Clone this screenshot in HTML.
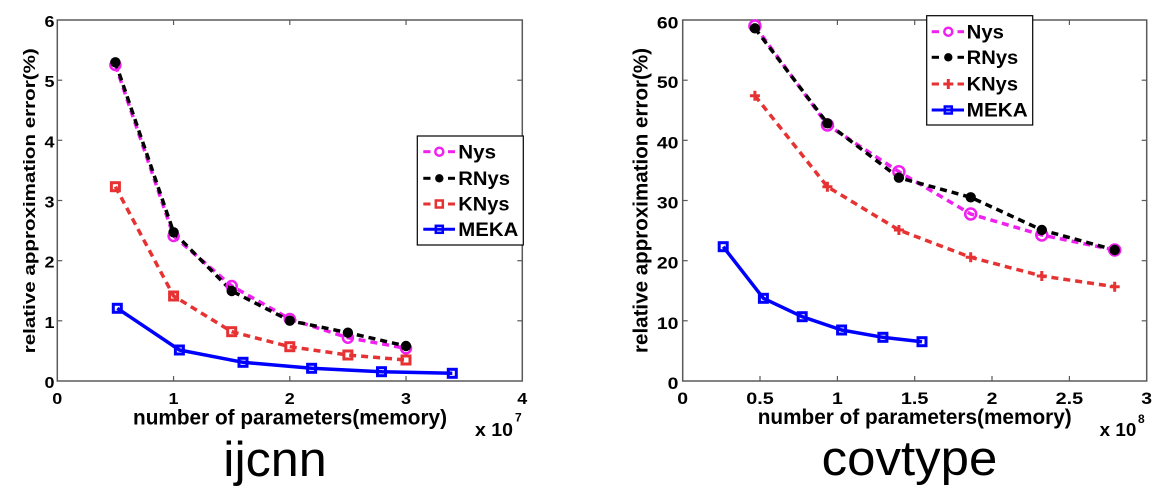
<!DOCTYPE html>
<html>
<head>
<meta charset="utf-8">
<style>
html,body{margin:0;padding:0;background:#fff;}
svg{display:block;}
.b{font-family:"Liberation Sans",Arial,sans-serif;font-weight:bold;fill:#000;}
.t{font-family:"Liberation Sans",Arial,sans-serif;font-weight:normal;fill:#000;}
</style>
</head>
<body>
<svg width="1158" height="502" viewBox="0 0 1158 502" xmlns="http://www.w3.org/2000/svg">
<rect x="0" y="0" width="1158" height="502" fill="#fff"/>

<!-- ================= LEFT PLOT (ijcnn) ================= -->
<g>
  <!-- axes box -->
  <rect x="57.3" y="20" width="465" height="361" fill="none" stroke="#5a5a5a" stroke-width="1.5"/>
  <!-- ticks -->
  <g stroke="#5a5a5a" stroke-width="1.2">
    <line x1="173.55" y1="381" x2="173.55" y2="376"/><line x1="289.8" y1="381" x2="289.8" y2="376"/><line x1="406.05" y1="381" x2="406.05" y2="376"/>
    <line x1="173.55" y1="20" x2="173.55" y2="25"/><line x1="289.8" y1="20" x2="289.8" y2="25"/><line x1="406.05" y1="20" x2="406.05" y2="25"/>
    <line x1="57.3" y1="320.8" x2="62.3" y2="320.8"/><line x1="57.3" y1="260.7" x2="62.3" y2="260.7"/><line x1="57.3" y1="200.5" x2="62.3" y2="200.5"/><line x1="57.3" y1="140.3" x2="62.3" y2="140.3"/><line x1="57.3" y1="80.2" x2="62.3" y2="80.2"/>
    <line x1="522.3" y1="320.8" x2="517.3" y2="320.8"/><line x1="522.3" y1="260.7" x2="517.3" y2="260.7"/><line x1="522.3" y1="200.5" x2="517.3" y2="200.5"/><line x1="522.3" y1="140.3" x2="517.3" y2="140.3"/><line x1="522.3" y1="80.2" x2="517.3" y2="80.2"/>
  </g>
  <!-- y tick labels -->
  <g class="b" font-size="16" text-anchor="end">
    <text x="54.5" y="388" textLength="10" lengthAdjust="spacingAndGlyphs">0</text>
    <text x="54.5" y="327.8" textLength="10" lengthAdjust="spacingAndGlyphs">1</text>
    <text x="54.5" y="267.7" textLength="10" lengthAdjust="spacingAndGlyphs">2</text>
    <text x="54.5" y="207.5" textLength="10" lengthAdjust="spacingAndGlyphs">3</text>
    <text x="54.5" y="147.3" textLength="10" lengthAdjust="spacingAndGlyphs">4</text>
    <text x="54.5" y="87.2" textLength="10" lengthAdjust="spacingAndGlyphs">5</text>
    <text x="54.5" y="27" textLength="10" lengthAdjust="spacingAndGlyphs">6</text>
  </g>
  <!-- x tick labels -->
  <g class="b" font-size="16" text-anchor="middle">
    <text x="57.3" y="404" textLength="10" lengthAdjust="spacingAndGlyphs">0</text>
    <text x="173.55" y="404" textLength="10" lengthAdjust="spacingAndGlyphs">1</text>
    <text x="289.8" y="404" textLength="10" lengthAdjust="spacingAndGlyphs">2</text>
    <text x="406.05" y="404" textLength="10" lengthAdjust="spacingAndGlyphs">3</text>
    <text x="522.3" y="404" textLength="10" lengthAdjust="spacingAndGlyphs">4</text>
  </g>
  <!-- axis labels -->
  <text class="b" font-size="21" x="133" y="424.5" textLength="314" lengthAdjust="spacingAndGlyphs">number of parameters(memory)</text>
  <text class="b" font-size="18" x="475" y="436" textLength="38" lengthAdjust="spacingAndGlyphs">x 10</text>
  <text class="b" font-size="12" x="515" y="421.5">7</text>
  <text class="b" font-size="20" text-anchor="middle" transform="translate(35,200.8) rotate(-90) scale(1,0.85)" textLength="305" lengthAdjust="spacingAndGlyphs">relative approximation error(%)</text>

  <!-- series -->
  <g fill="none" stroke-width="3.5" stroke-linejoin="round">
    <polyline stroke="#f020f0" stroke-dasharray="7 5" points="115.4,65 173.6,236 231.7,286 289.8,319 347.9,337.7 406,348.3"/>
    <polyline stroke="#000" stroke-dasharray="7 5" points="115.4,62.3 173.6,232.3 231.7,291 289.8,320.7 347.9,332.7 406,346"/>
    <polyline stroke="#e63232" stroke-dasharray="7 5" points="115.4,186.7 173.6,296 231.7,331.7 289.8,346.7 347.9,355 406,360"/>
    <polyline stroke="#0000ff" points="117.3,308.3 179.4,350 243,362.3 311.6,368.3 381.5,371.7 452.3,373.3"/>
  </g>
  <!-- markers -->
  <g fill="none" stroke="#f020f0" stroke-width="2.5">
    <circle cx="115.4" cy="65" r="5"/><circle cx="173.6" cy="236" r="5"/><circle cx="231.7" cy="286" r="5"/><circle cx="289.8" cy="319" r="5"/><circle cx="347.9" cy="337.7" r="5"/><circle cx="406" cy="348.3" r="5"/>
  </g>
  <g fill="#000">
    <circle cx="115.4" cy="62.3" r="5.2"/><circle cx="173.6" cy="232.3" r="5.2"/><circle cx="231.7" cy="291" r="5.2"/><circle cx="289.8" cy="320.7" r="5.2"/><circle cx="347.9" cy="332.7" r="5.2"/><circle cx="406" cy="346" r="5.2"/>
  </g>
  <g fill="none" stroke="#e63232" stroke-width="3">
    <rect x="111.4" y="182.7" width="8" height="8"/><rect x="169.6" y="292" width="8" height="8"/><rect x="227.7" y="327.7" width="8" height="8"/><rect x="285.8" y="342.7" width="8" height="8"/><rect x="343.9" y="351" width="8" height="8"/><rect x="402" y="356" width="8" height="8"/>
  </g>
  <g fill="none" stroke="#0000ff" stroke-width="3">
    <rect x="113.3" y="304.3" width="8" height="8"/><rect x="175.4" y="346" width="8" height="8"/><rect x="239" y="358.3" width="8" height="8"/><rect x="307.6" y="364.3" width="8" height="8"/><rect x="377.5" y="367.7" width="8" height="8"/><rect x="448.3" y="369.3" width="8" height="8"/>
  </g>

  <!-- legend -->
  <rect x="417.3" y="136" width="106" height="109" fill="#fff" stroke="#000" stroke-width="1.2"/>
  <g stroke-width="3">
    <line x1="423.3" y1="151.7" x2="430.5" y2="151.7" stroke="#f020f0"/><line x1="448" y1="151.7" x2="455" y2="151.7" stroke="#f020f0"/>
    <circle cx="439.3" cy="151.7" r="4" fill="none" stroke="#f020f0" stroke-width="2.5"/>
    <line x1="423.3" y1="178.3" x2="430.5" y2="178.3" stroke="#000"/><line x1="448" y1="178.3" x2="455" y2="178.3" stroke="#000"/>
    <circle cx="439.3" cy="178.3" r="4.2" fill="#000" stroke="none"/>
    <line x1="423.3" y1="204" x2="430.5" y2="204" stroke="#e63232"/><line x1="448" y1="204" x2="455" y2="204" stroke="#e63232"/>
    <rect x="435.8" y="200.5" width="7" height="7" fill="none" stroke="#e63232" stroke-width="2.5"/>
    <line x1="423.3" y1="229.3" x2="455" y2="229.3" stroke="#0000ff"/>
    <rect x="435.8" y="225.8" width="7" height="7" fill="none" stroke="#0000ff" stroke-width="2.5"/>
  </g>
  <g class="b" font-size="19">
    <text x="458.3" y="158.3" textLength="37.7" lengthAdjust="spacingAndGlyphs">Nys</text>
    <text x="458.3" y="185" textLength="51.7" lengthAdjust="spacingAndGlyphs">RNys</text>
    <text x="458.3" y="210.7" textLength="51.2" lengthAdjust="spacingAndGlyphs">KNys</text>
    <text x="458.3" y="236" textLength="60" lengthAdjust="spacingAndGlyphs">MEKA</text>
  </g>

  <!-- title -->
  <text class="t" font-size="49" x="223.3" y="476" textLength="103.4" lengthAdjust="spacingAndGlyphs">ijcnn</text>
</g>

<!-- ================= RIGHT PLOT (covtype) ================= -->
<g>
  <rect x="682.7" y="20" width="464" height="361" fill="none" stroke="#5a5a5a" stroke-width="1.5"/>
  <g stroke="#5a5a5a" stroke-width="1.2">
    <line x1="760" y1="381" x2="760" y2="376"/><line x1="837.4" y1="381" x2="837.4" y2="376"/><line x1="914.7" y1="381" x2="914.7" y2="376"/><line x1="992" y1="381" x2="992" y2="376"/><line x1="1069.4" y1="381" x2="1069.4" y2="376"/>
    <line x1="760" y1="20" x2="760" y2="25"/><line x1="837.4" y1="20" x2="837.4" y2="25"/><line x1="914.7" y1="20" x2="914.7" y2="25"/><line x1="992" y1="20" x2="992" y2="25"/><line x1="1069.4" y1="20" x2="1069.4" y2="25"/>
    <line x1="682.7" y1="320.8" x2="687.7" y2="320.8"/><line x1="682.7" y1="260.7" x2="687.7" y2="260.7"/><line x1="682.7" y1="200.5" x2="687.7" y2="200.5"/><line x1="682.7" y1="140.3" x2="687.7" y2="140.3"/><line x1="682.7" y1="80.2" x2="687.7" y2="80.2"/>
    <line x1="1146.7" y1="320.8" x2="1141.7" y2="320.8"/><line x1="1146.7" y1="260.7" x2="1141.7" y2="260.7"/><line x1="1146.7" y1="200.5" x2="1141.7" y2="200.5"/><line x1="1146.7" y1="140.3" x2="1141.7" y2="140.3"/><line x1="1146.7" y1="80.2" x2="1141.7" y2="80.2"/>
  </g>
  <g class="b" font-size="16.5" text-anchor="end">
    <text x="678.5" y="389" textLength="10.8" lengthAdjust="spacingAndGlyphs">0</text>
    <text x="678.5" y="328.8" textLength="21.6" lengthAdjust="spacingAndGlyphs">10</text>
    <text x="678.5" y="268.7" textLength="21.6" lengthAdjust="spacingAndGlyphs">20</text>
    <text x="678.5" y="208.5" textLength="21.6" lengthAdjust="spacingAndGlyphs">30</text>
    <text x="678.5" y="148.3" textLength="21.6" lengthAdjust="spacingAndGlyphs">40</text>
    <text x="678.5" y="88.2" textLength="21.6" lengthAdjust="spacingAndGlyphs">50</text>
    <text x="678.5" y="28.3" textLength="21.6" lengthAdjust="spacingAndGlyphs">60</text>
  </g>
  <g class="b" font-size="16.5" text-anchor="middle">
    <text x="682.7" y="404" textLength="10.8" lengthAdjust="spacingAndGlyphs">0</text>
    <text x="760" y="404" textLength="27.5" lengthAdjust="spacingAndGlyphs">0.5</text>
    <text x="837.4" y="404" textLength="10.8" lengthAdjust="spacingAndGlyphs">1</text>
    <text x="914.7" y="404" textLength="27.5" lengthAdjust="spacingAndGlyphs">1.5</text>
    <text x="992" y="404" textLength="10.8" lengthAdjust="spacingAndGlyphs">2</text>
    <text x="1069.4" y="404" textLength="27.5" lengthAdjust="spacingAndGlyphs">2.5</text>
    <text x="1146.7" y="404" textLength="10.8" lengthAdjust="spacingAndGlyphs">3</text>
  </g>
  <text class="b" font-size="21" x="757.7" y="424" textLength="314" lengthAdjust="spacingAndGlyphs">number of parameters(memory)</text>
  <text class="b" font-size="18" x="1099.7" y="436" textLength="36.6" lengthAdjust="spacingAndGlyphs">x 10</text>
  <text class="b" font-size="12" x="1138" y="423">8</text>
  <text class="b" font-size="20.5" text-anchor="middle" transform="translate(647.5,200.5) rotate(-90)" textLength="305" lengthAdjust="spacingAndGlyphs">relative approximation error(%)</text>

  <g fill="none" stroke-width="3.5" stroke-linejoin="round">
    <polyline stroke="#f020f0" stroke-dasharray="7 5" points="754.9,26 827.4,125 898.9,171.7 970.7,214 1041.8,235 1114.7,250"/>
    <polyline stroke="#000" stroke-dasharray="7 5" points="754.9,28.3 827.4,123.3 898.9,177.7 970.7,197.3 1041.8,230 1114.7,250"/>
    <polyline stroke="#e63232" stroke-dasharray="7 5" points="754.9,95.7 827.4,186.7 898.9,230 970.7,257.3 1041.8,276 1114.7,286.7"/>
    <polyline stroke="#0000ff" points="723.2,246.7 763.4,298.3 802.2,316.7 841.6,330 882.9,337.3 922,341.7"/>
  </g>
  <g fill="none" stroke="#f020f0" stroke-width="2.5">
    <circle cx="754.9" cy="26" r="5.5"/><circle cx="827.4" cy="125" r="5.5"/><circle cx="898.9" cy="171.7" r="5.5"/><circle cx="970.7" cy="214" r="5.5"/><circle cx="1041.8" cy="235" r="5.5"/><circle cx="1114.7" cy="250" r="5.5"/>
  </g>
  <g fill="#000">
    <circle cx="754.9" cy="28.3" r="5.2"/><circle cx="827.4" cy="123.3" r="5.2"/><circle cx="898.9" cy="177.7" r="5.2"/><circle cx="970.7" cy="197.3" r="5.2"/><circle cx="1041.8" cy="230" r="5.2"/><circle cx="1114.7" cy="250" r="5.2"/>
  </g>
  <g stroke="#e63232" stroke-width="3">
    <path d="M749.9 95.7h10M754.9 90.7v10"/>
    <path d="M822.4 186.7h10M827.4 181.7v10"/>
    <path d="M893.9 230h10M898.9 225v10"/>
    <path d="M965.7 257.3h10M970.7 252.3v10"/>
    <path d="M1036.8 276h10M1041.8 271v10"/>
    <path d="M1109.7 286.7h10M1114.7 281.7v10"/>
  </g>
  <g fill="none" stroke="#0000ff" stroke-width="3">
    <rect x="719.2" y="242.7" width="8" height="8"/><rect x="759.4" y="294.3" width="8" height="8"/><rect x="798.2" y="312.7" width="8" height="8"/><rect x="837.6" y="326" width="8" height="8"/><rect x="878.9" y="333.3" width="8" height="8"/><rect x="918" y="337.7" width="8" height="8"/>
  </g>

  <!-- legend -->
  <rect x="926.7" y="15.7" width="106" height="109.3" fill="#fff" stroke="#000" stroke-width="1.2"/>
  <g stroke-width="3">
    <line x1="931.7" y1="31.7" x2="939" y2="31.7" stroke="#f020f0"/><line x1="957.5" y1="31.7" x2="964" y2="31.7" stroke="#f020f0"/>
    <circle cx="948.3" cy="31.7" r="4" fill="none" stroke="#f020f0" stroke-width="2.5"/>
    <line x1="931.7" y1="57.3" x2="939" y2="57.3" stroke="#000"/><line x1="957.5" y1="57.3" x2="964" y2="57.3" stroke="#000"/>
    <circle cx="948.3" cy="57.3" r="4.2" fill="#000" stroke="none"/>
    <line x1="931.7" y1="84" x2="939" y2="84" stroke="#e63232"/><line x1="957.5" y1="84" x2="964" y2="84" stroke="#e63232"/>
    <path d="M943.3 84h10M948.3 79v10" stroke="#e63232"/>
    <line x1="931.7" y1="110" x2="964" y2="110" stroke="#0000ff"/>
    <rect x="944.8" y="106.5" width="7" height="7" fill="none" stroke="#0000ff" stroke-width="2.5"/>
  </g>
  <g class="b" font-size="19">
    <text x="966.7" y="38.4" textLength="37.3" lengthAdjust="spacingAndGlyphs">Nys</text>
    <text x="966.7" y="64" textLength="51.6" lengthAdjust="spacingAndGlyphs">RNys</text>
    <text x="966.7" y="90.7" textLength="51.3" lengthAdjust="spacingAndGlyphs">KNys</text>
    <text x="966.7" y="116.7" textLength="61" lengthAdjust="spacingAndGlyphs">MEKA</text>
  </g>

  <text class="t" font-size="49" x="821.7" y="475" textLength="175.6" lengthAdjust="spacingAndGlyphs">covtype</text>
</g>
</svg>
</body>
</html>
